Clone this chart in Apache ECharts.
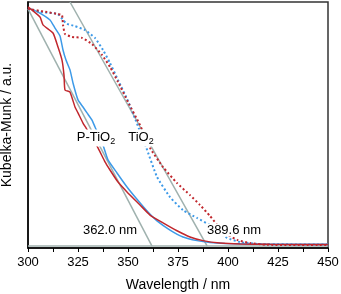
<!DOCTYPE html>
<html><head><meta charset="utf-8">
<script src="https://cdn.jsdelivr.net/npm/echarts@6/dist/echarts.min.js"></script>
<style>html,body{margin:0;padding:0;background:#fff}#c{width:341px;height:294px}</style>
</head><body><div id="c"></div>
<script>
// Data (x: wavelength / nm, y: Kubelka-Munk, a.u. scaled 0-100)
var pRedX  = [300,306,307.5,312.5,315,317,318,318.5,321,323.5,325,327.5,329,335,338.5,341,345,349.5,356,361,367.5,374.5,381,387.5,396,406,421,450];
var pRedY  = [98.0,93.9,90.7,87.4,81.7,76.4,70.3,64.2,63.4,57.3,54.9,50.8,48.8,40.7,35.0,31.7,26.8,22.8,17.5,13.4,10.2,7.0,4.5,3.0,2.0,1.6,1.5,1.4];
var pBlueX = [300,305,311,313.5,316,317.5,319,321,322.5,325,327.5,329.5,332,333.5,337,340,344.5,349.5,354.5,360,364.5,371,377.5,384.5,391,398.5,411,450];
var pBlueY = [97.6,95.9,92.7,89.4,86.2,80.5,76.4,72.4,67.1,60.2,57.3,54.9,52.0,49.2,43.1,35.8,30.5,24.8,19.8,14.6,11.0,7.3,4.5,3.0,2.2,1.8,1.6,1.5];
var tRedX  = [300,309.5,315,317,317.5,318.5,322,327,332,337,341,345,350,356,361,367.5,374.5,381,386,391,396,400,404.5,411,419.5,450];
var tRedY  = [97.2,95.9,95.1,94.7,90.7,87.0,85.8,85.4,82.9,78.5,73.6,67.5,59.3,50.0,40.7,32.9,26.4,21.5,17.5,13.0,8.1,5.3,3.3,2.0,1.3,1.2];
var tBlueX = [300,306,312,315,317.5,319.5,323.5,328.5,333.5,337.5,341,345,350,354,359,364.5,371,377.5,384.5,391,396,399.5,406,416,450];
var tBlueY = [97.2,95.9,95.5,95.1,92.7,91.1,90.2,88.6,85.4,80.5,75.2,68.3,59.8,51.6,41.1,28.9,20.7,15.4,12.2,9.3,6.1,4.1,2.4,1.6,1.4];
var tan1X = [300, 362.0];
var tan1Y = [97.2, 0.8];
var tan2X = [321, 389.6];
var tan2Y = [100, 0.8];
var baseX = [300, 450];
var baseY = [0.8, 0.8];
var xTicks = [300, 450, 25];

function pairs(xs, ys){ return xs.map(function(x,i){ return [x, ys[i]]; }); }

var RED = '#c1272d', BLUE = '#3d9ae8', GRAY = '#9fb1ae';
var chart = echarts.init(document.getElementById('c'), null, {renderer:'canvas'});
var solid = function(c,w){ return {color:c, width:w, type:'solid'}; };
var dotted = function(c){ return {color:c, width:2, type:[2,2.4], cap:'butt'}; };
function line(name, data, ls, z, sm){
  return {type:'line', name:name, data:data, showSymbol:false, symbol:'none', smooth:(sm===undefined?0.15:sm),
          lineStyle:ls, z:z||2, animation:false, clip:true};
}
chart.setOption({
  animation:false,
  grid:{left:28, right:13, top:2, bottom:46, show:true, borderColor:'#333', borderWidth:1.5,
        containLabel:false, outerBoundsMode:'none'},
  xAxis:{type:'value', min:xTicks[0], max:xTicks[1], interval:xTicks[2],
    axisLine:{show:true, onZero:false, lineStyle:{color:'#000', width:1.5}},
    axisTick:{show:true, length:4, lineStyle:{color:'#000', width:1}},
    minorTick:{show:true, splitNumber:2, length:4, lineStyle:{color:'#000', width:1}},
    splitLine:{show:false},
    axisLabel:{color:'#000', fontSize:13, fontFamily:'Liberation Sans, Arial', margin:8},
    name:'Wavelength / nm', nameLocation:'middle', nameGap:30,
    nameTextStyle:{color:'#000', fontSize:14, fontFamily:'Liberation Sans, Arial'}},
  yAxis:{type:'value', min:0, max:100,
    axisLine:{show:true, lineStyle:{color:'#000', width:1.5}},
    axisTick:{show:false}, axisLabel:{show:false}, splitLine:{show:false},
    name:'Kubelka-Munk / a.u.', nameLocation:'middle', nameGap:14,
    nameTextStyle:{color:'#000', fontSize:14, fontFamily:'Liberation Sans, Arial'}},
  series:[
    line('base', pairs(baseX, baseY), solid(GRAY,1.5), 1, 0),
    line('tan1', pairs(tan1X, tan1Y), solid(GRAY,1.5), 1, 0),
    line('tan2', pairs(tan2X, tan2Y), solid(GRAY,1.5), 1, 0),
    line('TiO2 blue', pairs(tBlueX, tBlueY), dotted(BLUE), 2),
    line('TiO2 red', pairs(tRedX, tRedY), dotted(RED), 3),
    line('P-TiO2 blue', pairs(pBlueX, pBlueY), solid(BLUE,1.5), 2),
    line('P-TiO2 red', pairs(pRedX, pRedY), solid(RED,1.5), 3)
  ],
  graphic:[
    {type:'text', x:96, y:138, z:100, style:{text:'{a|P-TiO}{s|2}', align:'center', verticalAlign:'middle',
      backgroundColor:'#fff', padding:[1,1,1,1],
      rich:{a:{fontSize:13, lineHeight:15, fontFamily:'Liberation Sans, Arial', fill:'#000', verticalAlign:'top'},
            s:{fontSize:9, lineHeight:10, padding:[7,0,0,0], fontFamily:'Liberation Sans, Arial', fill:'#000', verticalAlign:'top'}}}},
    {type:'text', x:141, y:138, z:100, style:{text:'{a|TiO}{s|2}', align:'center', verticalAlign:'middle',
      backgroundColor:'#fff', padding:[1,1,1,1],
      rich:{a:{fontSize:13, lineHeight:15, fontFamily:'Liberation Sans, Arial', fill:'#000', verticalAlign:'top'},
            s:{fontSize:9, lineHeight:10, padding:[7,0,0,0], fontFamily:'Liberation Sans, Arial', fill:'#000', verticalAlign:'top'}}}},
    {type:'text', x:110, y:230, z:100, style:{text:'362.0 nm', align:'center', verticalAlign:'middle',
      fontSize:13, fontFamily:'Liberation Sans, Arial', fill:'#000', backgroundColor:'#fff', padding:[0,1,0,1]}},
    {type:'text', x:234, y:230, z:100, style:{text:'389.6 nm', align:'center', verticalAlign:'middle',
      fontSize:13, fontFamily:'Liberation Sans, Arial', fill:'#000', backgroundColor:'#fff', padding:[0,1,0,1]}}
  ]
});
</script></body></html>
